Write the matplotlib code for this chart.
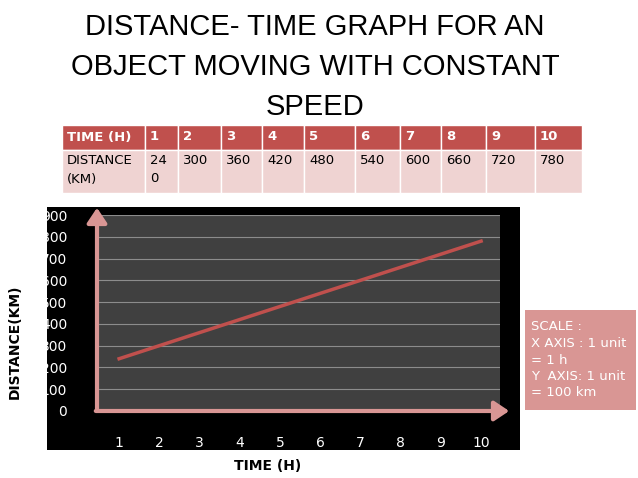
import matplotlib
matplotlib.use("Agg")
import matplotlib.pyplot as plt
from matplotlib.patches import Rectangle, FancyArrowPatch

time_h = [1, 2, 3, 4, 5, 6, 7, 8, 9, 10]
distance_km = [240, 300, 360, 420, 480, 540, 600, 660, 720, 780]
header = ["TIME (H)"] + [str(t) for t in time_h]
row = ["DISTANCE\n(KM)", "24\n0"] + [str(d) for d in distance_km[1:]]
col_edges = [62, 145, 178, 221, 262, 304, 355, 400, 441, 486, 535, 582]

W, H = 638, 478
fig = plt.figure(figsize=(W / 100, H / 100), dpi=100)
fig.patch.set_facecolor("white")

def fx(x):
    return x / W

def fy(y):
    return 1 - y / H

# title
for i, line in enumerate(["DISTANCE- TIME GRAPH FOR AN", "OBJECT MOVING WITH CONSTANT", "SPEED"]):
    fig.text(fx(315), fy(27 + i * 40), line, ha="center", va="center", fontsize=21,
             family="Liberation Sans", color="black")

# table
for j in range(len(header)):
    x0, x1 = col_edges[j], col_edges[j + 1]
    fig.patches.append(Rectangle((fx(x0), fy(150)), fx(x1 - x0), 25 / H, transform=fig.transFigure,
                                 facecolor="#c0504d", edgecolor="white", lw=1))
    fig.patches.append(Rectangle((fx(x0), fy(193)), fx(x1 - x0), 43 / H, transform=fig.transFigure,
                                 facecolor="#efd3d2", edgecolor="white", lw=1))
    fig.text(fx(x0 + 5), fy(137), header[j], ha="left", va="center", fontsize=9.5,
             fontweight="bold", color="white")
    fig.text(fx(x0 + 5), fy(161 if "\n" not in row[j] else 170), row[j], ha="left", va="center",
             fontsize=9.5, color="black", linespacing=1.5)

# black chart background (behind the axes)
fig.patches.append(Rectangle((fx(47), fy(450)), fx(520 - 47), (450 - 207) / H,
                             transform=fig.transFigure, facecolor="black", edgecolor="none",
                             zorder=-5))

ax = fig.add_axes([fx(95), fy(411), fx(500 - 95), (411 - 215) / H])
ax.set_zorder(2)
ax.set_facecolor("#404040")
ax.plot(time_h, distance_km, color="#c0504d", lw=2.5)
ax.set_xlim(0.4, 10.47)
ax.set_ylim(0, 900)
ax.set_yticks(range(0, 901, 100))
ax.set_xticks(time_h)
ax.grid(axis="y", color="#8c8c8c", lw=0.8)
ax.set_axisbelow(True)
for s in ax.spines.values():
    s.set_visible(False)
ax.tick_params(colors="white", labelsize=10, length=0)
ax.tick_params(axis="x", pad=18)
ax.tick_params(axis="y", pad=20)

# pink arrows (on top of the axes)
for start, end in [((97, 413), (97, 205)), ((93, 411), (512, 411))]:
    fig.patches.append(FancyArrowPatch((fx(start[0]), fy(start[1])), (fx(end[0]), fy(end[1])),
                                       transform=fig.transFigure,
                                       arrowstyle="-|>,head_length=6,head_width=4",
                                       color="#d99694", lw=3, mutation_scale=1.5, zorder=5))

fig.text(fx(15), fy(342), "DISTANCE(KM)", rotation=90, ha="center", va="center",
         fontsize=10, fontweight="bold")
fig.text(fx(268), fy(466), "TIME (H)", ha="center", va="center", fontsize=10, fontweight="bold")

# scale box
fig.patches.append(Rectangle((fx(525), fy(410)), fx(111), 100 / H, transform=fig.transFigure,
                             facecolor="#d99694", edgecolor="none"))
fig.text(fx(531), fy(360), "SCALE :\nX AXIS : 1 unit\n= 1 h\nY  AXIS: 1 unit\n= 100 km",
         ha="left", va="center", fontsize=9.5, color="white", linespacing=1.35)

fig.savefig("out.png", dpi=100)
